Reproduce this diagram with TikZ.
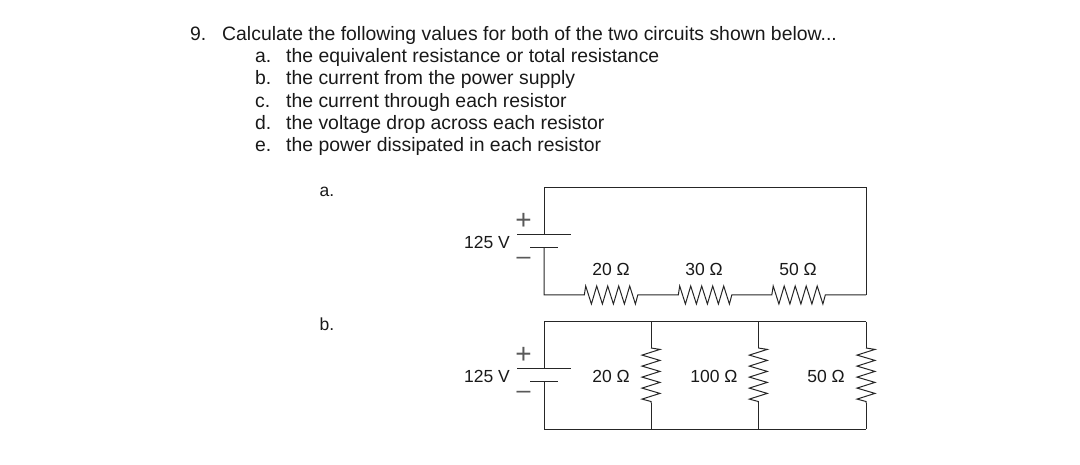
\documentclass[tikz,border=0pt]{standalone}
\usepackage{fontspec}
\setmainfont{Liberation Sans}
\tikzset{
  txt/.style={anchor=base west,inner sep=0pt,font=\fontsize{19.4}{21}\selectfont,text=black!90},
  lab/.style={inner sep=0pt,font=\fontsize{17.5}{19}\selectfont,text=black!90},
  sgn/.style={inner sep=0pt,font=\fontsize{25}{25}\selectfont,text=black!65},
  plu/.style={inner sep=0pt,font=\fontsize{28}{28}\selectfont,text=black!65},
  wire/.style={line width=1pt,black!85,line join=miter}
}
\newcommand{\reszig}{-- ++(1.4,-9) -- ++(5.7,18) -- ++(5.3,-18) -- ++(5.7,18) -- ++(5.3,-18) -- ++(5.7,18) -- ++(5.3,-18) -- ++(5.7,18) -- ++(5.3,-18) -- ++(5.7,18) -- ++(2.4,-9)}
\begin{document}
\begin{tikzpicture}[x=1pt,y=-1pt]
\useasboundingbox (0,0) rectangle (1080,465);
% Question text
\node[txt] (qnum) at (190,40.8) {9.};
\node[txt] (qtxt) at (222,40.8) {Calculate the following values for both of the two circuits shown below...};
\node[txt] (ia) at (255,62.8) {a.};
\node[txt] (ta) at (286,62.8) {the equivalent resistance or total resistance};
\node[txt] (ib) at (255,84.8) {b.};
\node[txt] (tb) at (286,84.8) {the current from the power supply};
\node[txt] (ic) at (255,107.8) {c.};
\node[txt] (tc) at (286,107.8) {the current through each resistor};
\node[txt] (id) at (255,129.8) {d.};
\node[txt] (td) at (286,129.8) {the voltage drop across each resistor};
\node[txt] (ie) at (255,151.8) {e.};
\node[txt] (te) at (286,151.8) {the power dissipated in each resistor};

% Circuit a
\node[lab,anchor=base] (cira) at (327,197) {a.};
\node[lab] (va) at (487,242) {125 V};
\node[plu] (pa) at (523.5,221.5) {+};
\node[sgn] (ma) at (523.5,261) {\textendash};
\coordinate (tla) at (544,187.4);
\coordinate (tra) at (866,187.4);
\coordinate (bra) at (866,295);
\coordinate (bla) at (544,295);
\coordinate (pla) at (544,234.4);
\coordinate (nla) at (544,248);
\coordinate (p1a) at (517,234.4);
\coordinate (p2a) at (571,234.4);
\coordinate (n1a) at (530,248);
\coordinate (n2a) at (558,248);
\draw[wire] (pla) -- (tla) -- (tra) -- (bra);
\draw[wire] (p1a) -- (p2a);
\draw[wire] (n1a) -- (n2a);
\coordinate (r1l) at (584.3,295);
\coordinate (r2l) at (678.3,295);
\coordinate (r3l) at (771.8,295);
\draw[wire] (nla) -- (bla) -- (r1l) \reszig -- (r2l) \reszig -- (r3l) \reszig -- (bra);
\node[lab] (l1a) at (611,269) {20 Ω};
\node[lab] (l2a) at (704,269) {30 Ω};
\node[lab] (l3a) at (798,269) {50 Ω};

% Circuit b
\node[lab,anchor=base] (cirb) at (327,330.5) {b.};
\node[lab] (vb) at (487,376) {125 V};
\node[plu] (pb) at (523.5,355) {+};
\node[sgn] (mb) at (523.5,395) {\textendash};
\coordinate (tlb) at (544,321.6);
\coordinate (blb) at (544,429);
\coordinate (plb) at (544,368.4);
\coordinate (nlb) at (544,381.4);
\coordinate (p1b) at (517,368.4);
\coordinate (p2b) at (571,368.4);
\coordinate (n1b) at (530,381.4);
\coordinate (n2b) at (558,381.4);
\draw[wire] (plb) -- (tlb);
\draw[wire] (nlb) -- (blb);
\draw[wire] (p1b) -- (p2b);
\draw[wire] (n1b) -- (n2b);
\foreach \nm/\xx/\val/\lx in {s/651/20/611,t/758.3/100/714,u/866/50/826}{
  \coordinate (\nm t) at (\xx,321.6);
  \coordinate (\nm a) at (\xx,348);
  \coordinate (\nm b) at (\xx,403);
  \coordinate (\nm e) at (\xx,429);
  \draw[wire] (\nm t) -- (\nm a);
  \draw[wire,rotate=-90] (\nm a) \reszig -- (\nm b);
  \draw[wire] (\nm b) -- (\nm e);
  \node[lab] (\nm l) at (\lx,376) {\val{} Ω};
}
\draw[wire] (tlb) -- (ut);
\draw[wire] (blb) -- (ue);
\end{tikzpicture}
\end{document}
